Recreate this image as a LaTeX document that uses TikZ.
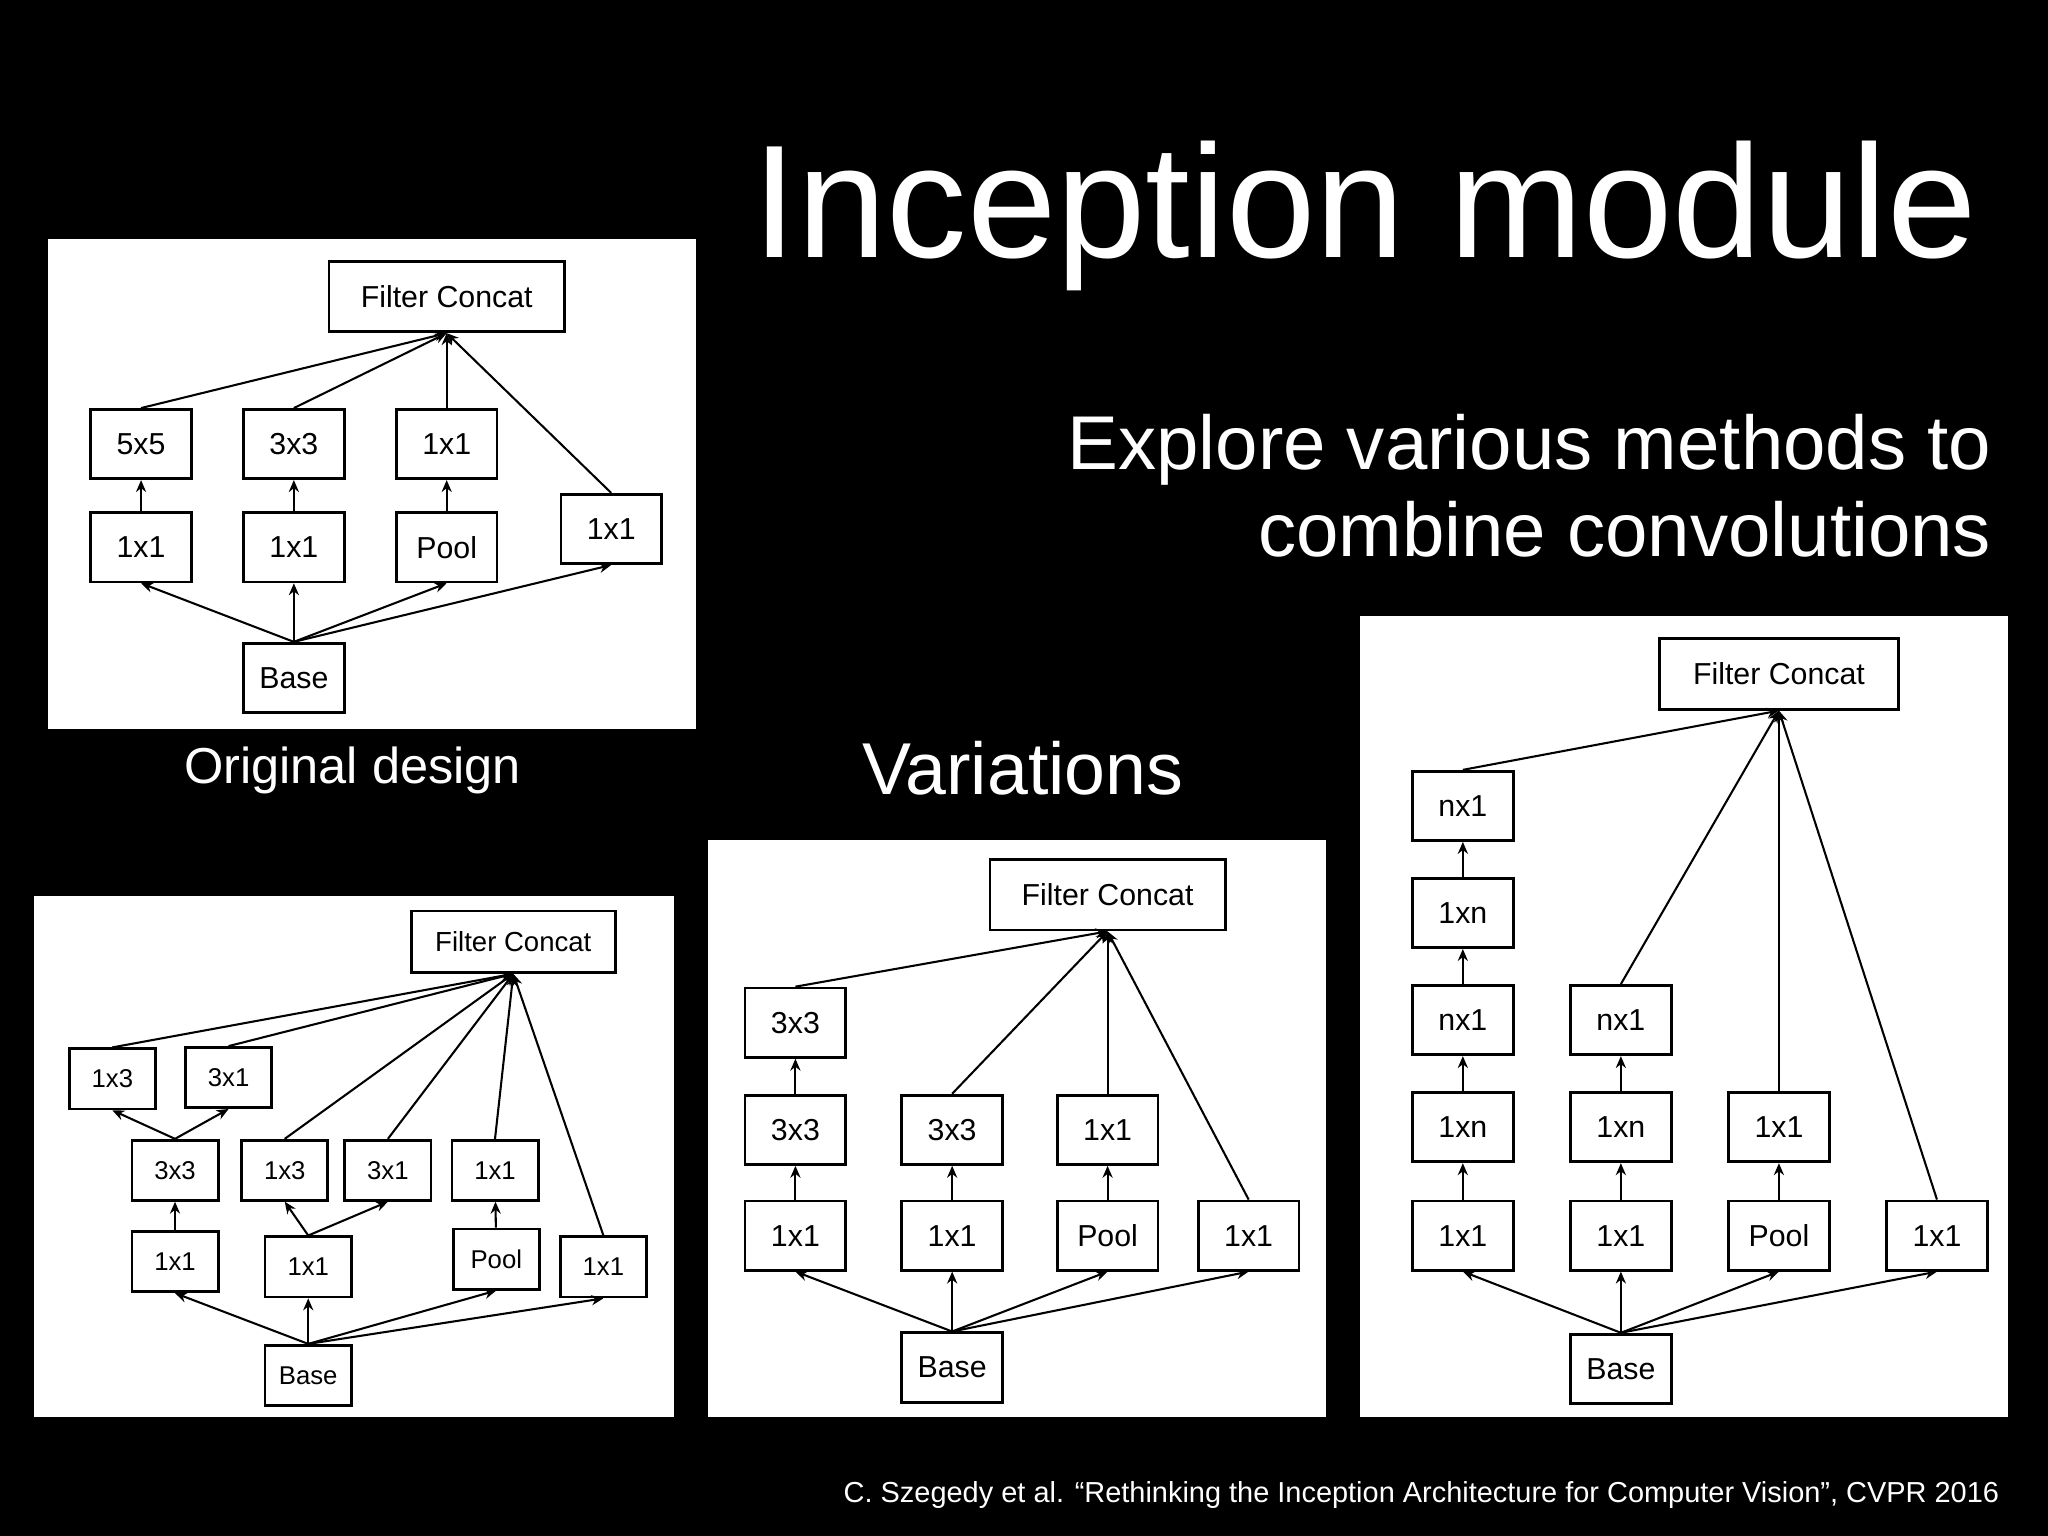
\documentclass[tikz,border=0pt]{standalone}
\usepackage{fontspec}
\setmainfont{Liberation Sans}
\usetikzlibrary{arrows.meta}
\tikzset{
 bx/.style={draw=black,line width=0.6pt,fill=white,inner sep=0pt,minimum width=0.77cm,minimum height=0.53cm,font=\fontsize{6.6}{7}\selectfont},
 sbx/.style={bx,minimum width=0.66cm,minimum height=0.46cm,font=\fontsize{5.6}{6}\selectfont},
 fc/.style={bx,minimum width=1.8cm,minimum height=0.54cm},
 ar/.style={draw=black,line width=0.45pt,-{Stealth[length=2.6pt,width=2.2pt]}},
 panel/.style={fill=white,draw=none}
}
\begin{document}
\begin{tikzpicture}[x=0.01cm,y=-0.01cm]
\fill[black] (0,0) rectangle (1568,1176);
\useasboundingbox (0,0) rectangle (1568,1176);
% titles
\node[white,font=\fontsize{35}{40}\selectfont] (title) at (1045,165) {Inception module};
\node[white,anchor=east,align=right,font=\fontsize{16.6}{19}\selectfont] (explore) at (1537,372) {Explore various methods to\\combine convolutions};
\node[white,font=\fontsize{11}{13}\selectfont] (orig) at (270,590) {Original design};
\node[white,font=\fontsize{16}{18}\selectfont] (var) at (783,588) {Variations};
\node[white,anchor=east,font=\fontsize{6.3}{7}\selectfont] (cite) at (1543,1145) {C. Szegedy et al. “Rethinking the Inception Architecture for Computer Vision”, CVPR 2016};
% panels
\fill[panel] (37,183) rectangle (533,558);
\fill[panel] (26,686) rectangle (516,1085);
\fill[panel] (542,643) rectangle (1015,1085);
\fill[panel] (1041,472) rectangle (1537,1085);
% P1
\node[fc] (a0) at (342,227) {Filter Concat};
\node[bx] (a1) at (108,340) {5x5};
\node[bx] (a2) at (225,340) {3x3};
\node[bx] (a3) at (342,340) {1x1};
\node[bx] (a4) at (108,419) {1x1};
\node[bx] (a5) at (225,419) {1x1};
\node[bx] (a6) at (342,419) {Pool};
\node[bx] (a7) at (468,405) {1x1};
\node[bx] (ab) at (225,519) {Base};
\foreach \t in {a4,a5,a6,a7} \draw[ar] (ab.north) -- (\t.south);
\draw[ar] (a4) -- (a1); \draw[ar] (a5) -- (a2); \draw[ar] (a6) -- (a3);
\foreach \s in {a1,a2,a3,a7} \draw[ar] (\s.north) -- (a0.south);
% P2
\node[fc,minimum width=1.56cm,minimum height=0.47cm,font=\fontsize{6}{7}\selectfont] (b0) at (393,721) {Filter Concat};
\node[sbx] (b1) at (86,826) {1x3};
\node[sbx] (b2) at (175,825) {3x1};
\node[sbx] (b3) at (134,896) {3x3};
\node[sbx] (b4) at (218,896) {1x3};
\node[sbx] (b5) at (297,896) {3x1};
\node[sbx] (b6) at (379,896) {1x1};
\node[sbx] (b7) at (134,966) {1x1};
\node[sbx] (b8) at (236,970) {1x1};
\node[sbx] (b9) at (380,964) {Pool};
\node[sbx] (b10) at (462,970) {1x1};
\node[sbx] (bb) at (236,1053) {Base};
\foreach \t in {b7,b8,b9,b10} \draw[ar] (bb.north) -- (\t.south);
\draw[ar] (b7) -- (b3);
\draw[ar] (b3.north) -- (b1.south); \draw[ar] (b3.north) -- (b2.south);
\draw[ar] (b8.north) -- (b4.south); \draw[ar] (b8.north) -- (b5.south);
\draw[ar] (b9) -- (b6);
\foreach \s in {b1,b2,b4,b5,b6,b10} \draw[ar] (\s.north) -- (b0.south);
% P3
\node[fc] (c0) at (848,685) {Filter Concat};
\node[bx] (c1) at (609,783) {3x3};
\node[bx] (c2) at (609,865) {3x3};
\node[bx] (c3) at (729,865) {3x3};
\node[bx] (c4) at (848,865) {1x1};
\node[bx] (c5) at (609,946) {1x1};
\node[bx] (c6) at (729,946) {1x1};
\node[bx] (c7) at (848,946) {Pool};
\node[bx] (c8) at (956,946) {1x1};
\node[bx] (cb) at (729,1047) {Base};
\foreach \t in {c5,c6,c7,c8} \draw[ar] (cb.north) -- (\t.south);
\draw[ar] (c5) -- (c2); \draw[ar] (c2) -- (c1); \draw[ar] (c6) -- (c3); \draw[ar] (c7) -- (c4);
\foreach \s in {c1,c3,c4,c8} \draw[ar] (\s.north) -- (c0.south);
% P4
\node[fc,minimum width=1.83cm] (d0) at (1362,516) {Filter Concat};
\node[bx] (d1) at (1120,617) {nx1};
\node[bx] (d2) at (1120,699) {1xn};
\node[bx] (d3) at (1120,781) {nx1};
\node[bx] (d4) at (1241,781) {nx1};
\node[bx] (d5) at (1120,863) {1xn};
\node[bx] (d6) at (1241,863) {1xn};
\node[bx] (d7) at (1362,863) {1x1};
\node[bx] (d8) at (1120,946) {1x1};
\node[bx] (d9) at (1241,946) {1x1};
\node[bx] (d10) at (1362,946) {Pool};
\node[bx] (d11) at (1483,946) {1x1};
\node[bx] (db) at (1241,1048) {Base};
\foreach \t in {d8,d9,d10,d11} \draw[ar] (db.north) -- (\t.south);
\draw[ar] (d8) -- (d5); \draw[ar] (d5) -- (d3); \draw[ar] (d3) -- (d2); \draw[ar] (d2) -- (d1);
\draw[ar] (d9) -- (d6); \draw[ar] (d6) -- (d4); \draw[ar] (d10) -- (d7);
\foreach \s in {d1,d4,d7,d11} \draw[ar] (\s.north) -- (d0.south);
\end{tikzpicture}
\end{document}
